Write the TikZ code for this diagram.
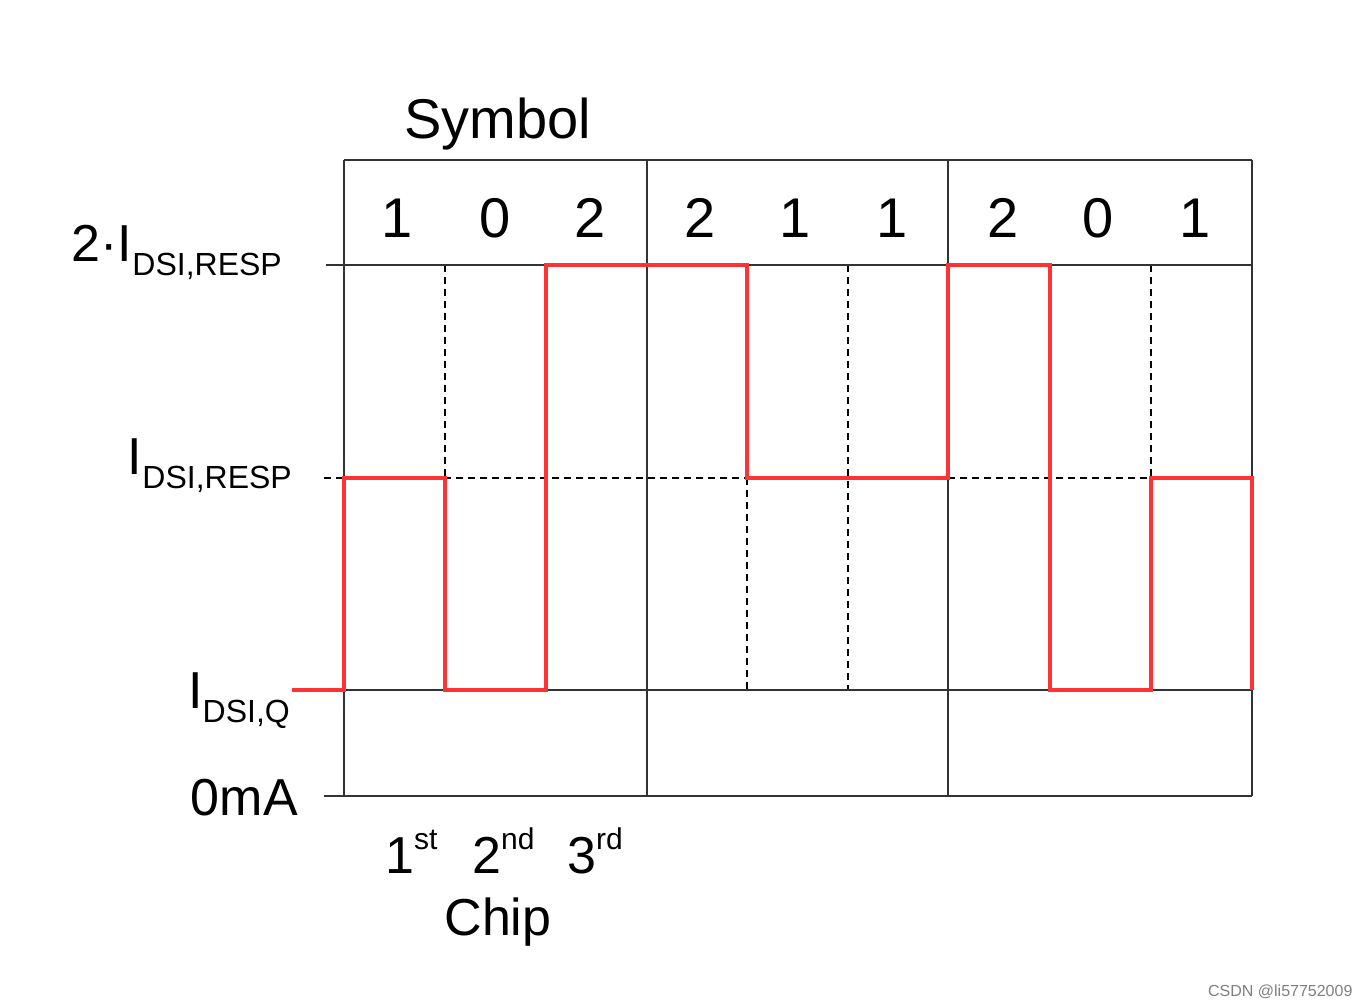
\documentclass[tikz,border=0pt]{standalone}
\usepackage{fontspec}
\setmainfont{Liberation Sans}
\begin{document}
\begin{tikzpicture}[x=1pt,y=-1pt,
  grid/.style={line width=2pt,black!80},
  dsh/.style={line width=1.5pt,dash pattern=on 7pt off 5pt},
  wave/.style={line width=4pt,red!80!white,line join=miter},
  big/.style={font=\fontsize{56}{60}\selectfont,inner sep=0pt},
  lab/.style={font=\fontsize{52}{56}\selectfont,inner sep=0pt}]
\useasboundingbox (0,0) rectangle (1369,1008);
\fill[white] (0,0) rectangle (1369,1008);
% dashed
\draw[dsh] (324,478) -- (1252,478);
\draw[dsh] (445,265) -- (445,478);
\draw[dsh] (747,478) -- (747,690);
\draw[dsh] (848,265) -- (848,690);
\draw[dsh] (1151,265) -- (1151,478);
% grid
\draw[grid] (344,160) -- (1252,160);
\draw[grid] (326,265) -- (1252,265);
\draw[grid] (344,690) -- (1252,690);
\draw[grid] (324,796) -- (1252,796);
\foreach \x in {344,647,948,1252} \draw[grid] (\x,160) -- (\x,796);
% wave
\draw[wave] (292,690) -- (344,690) -- (344,478) -- (445,478) -- (445,690) -- (546,690) -- (546,265) -- (747,265) -- (747,478) -- (948,478) -- (948,265) -- (1050,265) -- (1050,690) -- (1151,690) -- (1151,478) -- (1252,478) -- (1252,690);
% symbols
\foreach \x/\s [count=\i] in {397/1,495/0,590/2,700/2,795/1,892/1,1003/2,1098/0,1195/1}
  \node[big] (s\i) at (\x,218) {\s};
\node[big] (sym) at (498,124) {Symbol};
\newcommand{\subx}[1]{\raisebox{-14pt}{\fontsize{32}{34}\selectfont #1}}
\newcommand{\supx}[1]{\raisebox{24pt}{\fontsize{30}{32}\selectfont #1}}
\node[lab,anchor=base east] (l2) at (282,262) {2·I\subx{DSI,RESP}};
\node[lab,anchor=base east] (l1) at (292,474) {I\subx{DSI,RESP}};
\node[lab,anchor=base east] (l0) at (290,708) {I\subx{DSI,Q}};
\node[lab,anchor=base east] (lz) at (298,815) {0mA};
\node[lab,anchor=base west] (c1) at (385,873) {1\supx{st}};
\node[lab,anchor=base west] (c2) at (472,873) {2\supx{nd}};
\node[lab,anchor=base west] (c3) at (567,873) {3\supx{rd}};
\node[lab] (chip) at (498,922) {Chip};
\node[font=\fontsize{16}{18}\selectfont,text=gray,anchor=south east] (wm) at (1356,1002) {CSDN @li57752009};
\end{tikzpicture}
\end{document}
